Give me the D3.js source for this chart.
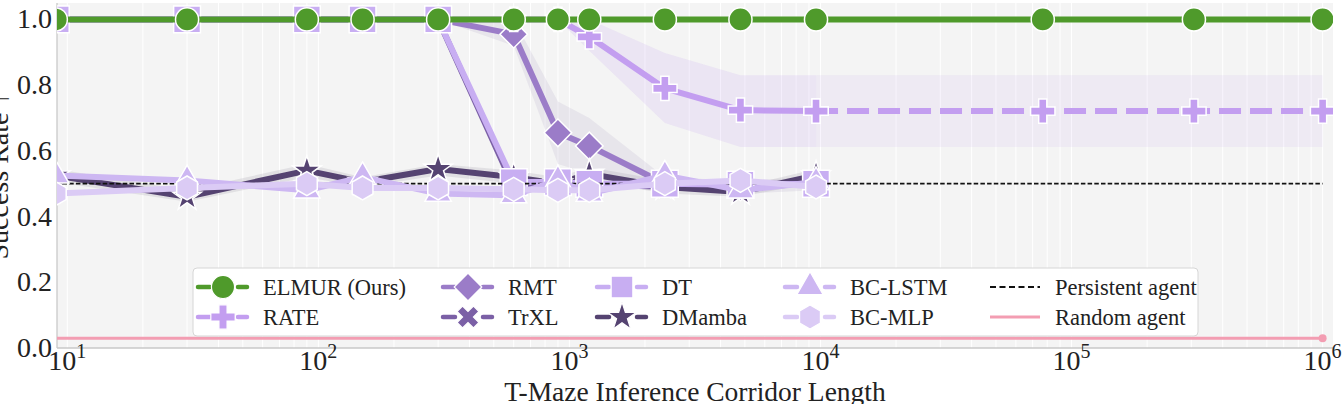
<!DOCTYPE html>
<html>
<head>
<meta charset="utf-8">
<script src="https://cdn.jsdelivr.net/npm/d3@7"></script>
<style>
  body { margin: 0; background: #fff; }
  svg { display: block; font-family: "Liberation Serif", "Times New Roman", serif; }
</style>
</head>
<body>
<div class="container"></div>
<script>
// corridor lengths (measured) and the extrapolated tail
const lengths = [9, 30, 90, 150, 300, 600, 900, 1200, 2400, 4800, 9600];
const extLengths = [9600, 76800, 307200, 1000000];
const allLengths = lengths.concat(extLengths.slice(1));

// series values
const elmur = [1, 1, 1, 1, 1, 1, 1, 1, 1, 1, 1, 1, 1, 1];
const rate = [1, 1, 1, 1, 1, 1, 1, 0.947, 0.79, 0.724, 0.721];
const rateLow = [1, 1, 1, 1, 1, 1, 1, 0.905, 0.685, 0.612, 0.612];
const rateHigh = [1, 1, 1, 1, 1, 1, 1, 1, 0.898, 0.83, 0.83];
const rateExt = [0.721, 0.721, 0.721, 0.721];
const rateExtLow = [0.612, 0.612, 0.612, 0.612];
const rateExtHigh = [0.83, 0.83, 0.83, 0.83];
const rmt = [1, 1, 1, 1, 1, 0.955, 0.655, 0.615, 0.5, 0.49, 0.5];
const rmtLow = [1, 1, 1, 1, 1, 0.92, 0.56, 0.53, 0.48, 0.47, 0.48];
const rmtHigh = [1, 1, 1, 1, 1, 1, 0.75, 0.7, 0.52, 0.51, 0.52];
const trxl = [1, 1, 1, 1, 1, 0.49, 0.5, 0.5, 0.49, 0.5, 0.5];
const dt = [1, 1, 1, 1, 1, 0.505, 0.505, 0.5, 0.5, 0.497, 0.5];
const dmamba = [0.525, 0.46, 0.54, 0.505, 0.545, 0.52, 0.5, 0.53, 0.49, 0.475, 0.525];
const dmambaLow = [0.505, 0.445, 0.52, 0.49, 0.525, 0.5, 0.485, 0.51, 0.47, 0.46, 0.505];
const dmambaHigh = [0.545, 0.48, 0.56, 0.52, 0.56, 0.54, 0.52, 0.55, 0.51, 0.49, 0.545];
const bcLstm = [0.525, 0.51, 0.48, 0.52, 0.47, 0.465, 0.51, 0.47, 0.525, 0.48, 0.505];
const bcMlp = [0.47, 0.487, 0.5, 0.487, 0.487, 0.483, 0.48, 0.48, 0.5, 0.51, 0.49];
const persistentLevel = 0.5;
const randomLevel = 0.03;

// tick labels
const yTicks = [0, 0.2, 0.4, 0.6, 0.8, 1.0];
const xTickExps = [1, 2, 3, 4, 5, 6];

const width = 1342, height = 404;
const pL = 57, pR = 1333, pT = 3, pB = 348;

const col = {
  elmur: "#4f9a2b", rate: "#c39ef0", rmt: "#9b7cc8", trxl: "#7b60a6",
  dt: "#c8aef2", dmamba: "#554371", lstm: "#cdb7f2", mlp: "#dbcbf5",
  random: "#f39db2"
};

const x = d3.scaleLog().domain([9.1, 1.1e6]).range([pL, pR]);
const y = d3.scaleLinear().domain([0, 1.05]).range([pB, pT]);

const svg = d3.select("div.container").append("svg")
  .attr("width", width).attr("height", height);

svg.append("defs").append("clipPath").attr("id", "plot")
  .append("rect").attr("x", pL).attr("y", pT)
  .attr("width", pR - pL).attr("height", pB - pT);

// background + grid
svg.append("rect").attr("x", pL).attr("y", pT)
  .attr("width", pR - pL).attr("height", pB - pT).attr("fill", "#f4f4f4");

svg.append("g").selectAll("line")
  .data(x.ticks().filter(v => v > 9.1 && v < 1.1e6))
  .join("line")
  .attr("x1", d => x(d)).attr("x2", d => x(d))
  .attr("y1", pT).attr("y2", pB)
  .attr("stroke", "#fff").attr("stroke-width", 1);

// spines
svg.append("line").attr("x1", pL).attr("x2", pL).attr("y1", pT).attr("y2", pB)
  .attr("stroke", "#c9c9c9").attr("stroke-width", 1.3);
svg.append("line").attr("x1", pL).attr("x2", pR).attr("y1", pB).attr("y2", pB)
  .attr("stroke", "#c9c9c9").attr("stroke-width", 1.3);

const plot = svg.append("g").attr("clip-path", "url(#plot)");

const line = d3.line().x(d => x(d[0])).y(d => y(d[1]));
const area = d3.area().x(d => x(d[0])).y0(d => y(d[1])).y1(d => y(d[2]));
const zip = (xs, ...cols) => xs.map((v, i) => [v, ...cols.map(c => c[i])]);

// bands
plot.append("path").datum(zip(lengths, rateLow, rateHigh)).attr("d", area)
  .attr("fill", col.rate).attr("fill-opacity", 0.18);
plot.append("path").datum(zip(extLengths, rateExtLow, rateExtHigh)).attr("d", area)
  .attr("fill", col.rate).attr("fill-opacity", 0.11);
plot.append("path").datum(zip(lengths, rmtLow, rmtHigh)).attr("d", area)
  .attr("fill", "#b3a8c6").attr("fill-opacity", 0.2);
plot.append("path").datum(zip(lengths, dmambaLow, dmambaHigh)).attr("d", area)
  .attr("fill", "#a09ba8").attr("fill-opacity", 0.22);

// random agent
plot.append("path").datum(allLengths.map(v => [v, randomLevel])).attr("d", line)
  .attr("fill", "none").attr("stroke", col.random).attr("stroke-width", 3);
plot.append("circle").attr("cx", x(allLengths[allLengths.length - 1])).attr("cy", y(randomLevel))
  .attr("r", 4).attr("fill", col.random);

// markers
function hexPath(r) {
  const pts = d3.range(6).map(k => {
    const a = (-90 + 60 * k) * Math.PI / 180;
    return [r * Math.cos(a), r * Math.sin(a)];
  });
  return "M" + pts.map(p => p.join(",")).join("L") + "Z";
}
const markers = {
  circle: { d: d3.symbol(d3.symbolCircle, 420)(), rot: 0 },
  plus: { d: d3.symbol(d3.symbolCross, 330)(), rot: 0 },
  diamond: { d: d3.symbol(d3.symbolSquare, 380)(), rot: 45 },
  cross: { d: d3.symbol(d3.symbolCross, 300)(), rot: 45 },
  square: { d: d3.symbol(d3.symbolSquare, 720)(), rot: 0 },
  star: { d: d3.symbol(d3.symbolStar, 250)(), rot: 0 },
  triangle: { d: d3.symbol(d3.symbolTriangle, 300)(), rot: 0 },
  hexagon: { d: hexPath(12), rot: 0 }
};

function series(xs, ys, color, marker, dash) {
  const data = zip(xs, ys);
  plot.append("path").datum(data).attr("d", line)
    .attr("fill", "none").attr("stroke", color).attr("stroke-width", 6)
    .attr("stroke-linejoin", "round")
    .attr("stroke-dasharray", dash || null);
  plot.append("g").selectAll("path").data(data).join("path")
    .attr("d", markers[marker].d)
    .attr("transform", d => `translate(${x(d[0])},${y(d[1])}) rotate(${markers[marker].rot})`)
    .attr("fill", color).attr("stroke", "#fff").attr("stroke-width", 1.5);
}

series(lengths, rmt, col.rmt, "diamond");
series(lengths, trxl, col.trxl, "cross");
series(lengths, dmamba, col.dmamba, "star");
series(extLengths, rateExt, col.rate, "plus", "22,9");
series(lengths, rate, col.rate, "plus");
series(lengths, dt, col.dt, "square");

plot.append("path").datum(allLengths.map(v => [v, persistentLevel])).attr("d", line)
  .attr("fill", "none").attr("stroke", "#111").attr("stroke-width", 1.8)
  .attr("stroke-dasharray", "4.5,2.2");

series(lengths, bcLstm, col.lstm, "triangle");
series(lengths, bcMlp, col.mlp, "hexagon");
series(allLengths, elmur, col.elmur, "circle");

// y axis labels
svg.append("g").selectAll("text").data(yTicks).join("text")
  .attr("x", pL - 5).attr("y", d => y(d) + 9)
  .attr("text-anchor", "end").attr("font-size", 28).attr("fill", "#222")
  .text(d => d.toFixed(1));

// x axis labels
const xt = svg.append("g").selectAll("text").data(xTickExps).join("text")
  .attr("x", d => x(Math.pow(10, d))).attr("y", 370)
  .attr("text-anchor", "middle").attr("font-size", 28).attr("fill", "#222");
xt.append("tspan").text("10");
xt.append("tspan").attr("dy", -12).attr("font-size", 20).text(d => d);

svg.append("text").attr("x", (pL + pR) / 2).attr("y", 401)
  .attr("text-anchor", "middle").attr("font-size", 27.5).attr("fill", "#222")
  .text("T-Maze Inference Corridor Length");

svg.append("text").attr("transform", `translate(8,${(pT + pB) / 2}) rotate(-90)`)
  .attr("text-anchor", "middle").attr("font-size", 28).attr("fill", "#222")
  .text("Success Rate ↑");

// legend
const legendItems = [
  { name: "ELMUR (Ours)", color: col.elmur, marker: "circle", col: 0, row: 0 },
  { name: "RATE", color: col.rate, marker: "plus", col: 0, row: 1 },
  { name: "RMT", color: col.rmt, marker: "diamond", col: 1, row: 0 },
  { name: "TrXL", color: col.trxl, marker: "cross", col: 1, row: 1 },
  { name: "DT", color: col.dt, marker: "square", col: 2, row: 0 },
  { name: "DMamba", color: col.dmamba, marker: "star", col: 2, row: 1 },
  { name: "BC-LSTM", color: col.lstm, marker: "triangle", col: 3, row: 0 },
  { name: "BC-MLP", color: col.mlp, marker: "hexagon", col: 3, row: 1 },
  { name: "Persistent agent", color: "#111", marker: null, col: 4, row: 0 },
  { name: "Random agent", color: col.random, marker: null, col: 4, row: 1 }
];
const colX = [223, 468, 622, 810, 1015];
const rowY = [287, 317];

const lg = svg.append("g");
lg.append("rect").attr("x", 193).attr("y", 268).attr("width", 1005).attr("height", 68)
  .attr("rx", 4).attr("fill", "#fff").attr("stroke", "#d6d6d6").attr("stroke-width", 1);

legendItems.forEach(it => {
  const cx = colX[it.col], cy = rowY[it.row];
  const g = lg.append("g");
  if (it.marker) {
    g.append("line").attr("x1", cx - 25).attr("x2", cx - 13).attr("y1", cy).attr("y2", cy)
      .attr("stroke", it.color).attr("stroke-width", 4.5).attr("stroke-linecap", "round");
    g.append("line").attr("x1", cx + 15).attr("x2", cx + 24).attr("y1", cy).attr("y2", cy)
      .attr("stroke", it.color).attr("stroke-width", 4.5).attr("stroke-linecap", "round");
    const m = it.marker === "square" ? d3.symbol(d3.symbolSquare, 470)() : markers[it.marker].d;
    g.append("path").attr("d", m)
      .attr("transform", `translate(${cx},${cy}) rotate(${markers[it.marker].rot})`)
      .attr("fill", it.color).attr("stroke", "#fff").attr("stroke-width", 1.2);
  } else if (it.row === 0) {
    g.append("line").attr("x1", cx - 25).attr("x2", cx + 25).attr("y1", cy).attr("y2", cy)
      .attr("stroke", it.color).attr("stroke-width", 1.8).attr("stroke-dasharray", "6,3.5");
  } else {
    g.append("line").attr("x1", cx - 25).attr("x2", cx + 25).attr("y1", cy).attr("y2", cy)
      .attr("stroke", it.color).attr("stroke-width", 3);
  }
  g.append("text").attr("x", cx + 40).attr("y", cy + 7.5)
    .attr("font-size", 22.5).attr("fill", "#222").text(it.name);
});
</script>
</body>
</html>
